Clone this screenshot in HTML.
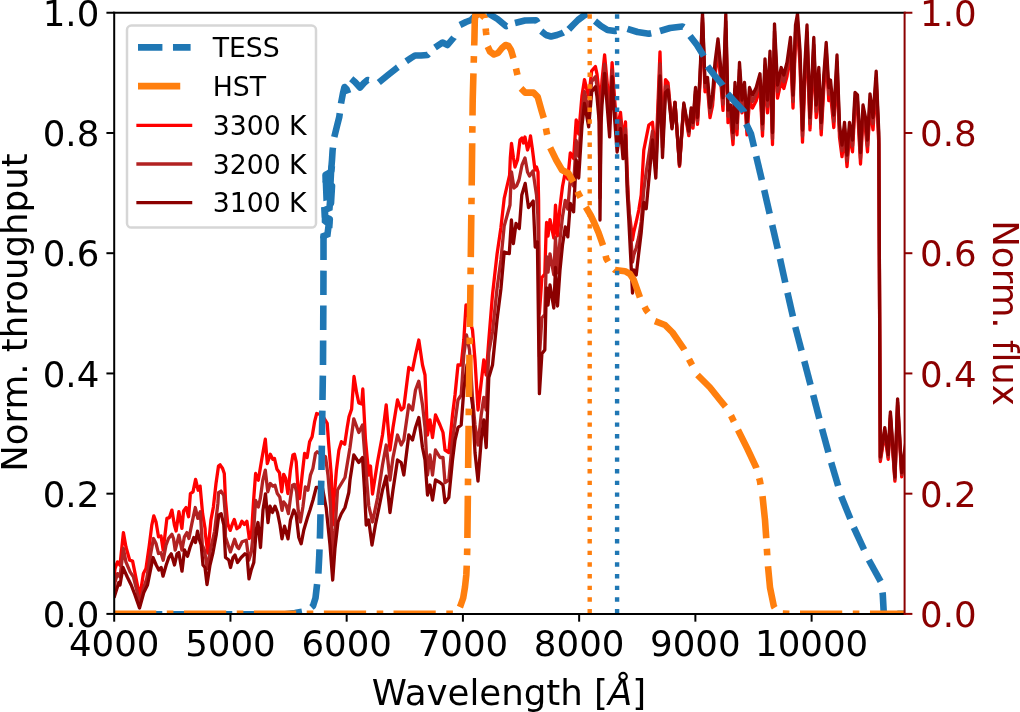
<!DOCTYPE html>
<html lang="en">
<head>
<meta charset="utf-8">
<title>Norm. throughput and flux vs wavelength</title>
<style>
html,body{margin:0;padding:0;background:#fff;}
body{width:1020px;height:712px;overflow:hidden;}
svg{display:block;}
text{font-variant-ligatures:none;font-feature-settings:"liga" 0,"clig" 0;font-kerning:normal;}
</style>
</head>
<body>
<svg width="1020" height="712" viewBox="0 0 1020 712">
<defs><clipPath id="ax"><rect x="114.20" y="12.74" width="790.40" height="601.16"/></clipPath></defs>
<rect width="1020" height="712" fill="#fff"/>
<g clip-path="url(#ax)" fill="none" stroke-linejoin="round" stroke-linecap="square" stroke-width="3.30">
<polyline points="114.2,576.6 115.0,568.6 117.5,561.9 120.0,565.2 123.4,532.6 125.9,546.8 129.7,560.2 132.6,561.1 135.1,573.6 139.8,597.0 143.4,573.6 146.0,568.6 149.3,545.2 151.8,525.1 153.8,515.9 156.0,521.8 158.5,536.8 161.0,536.0 163.2,550.2 166.9,518.4 169.4,517.6 171.9,510.1 174.4,525.1 176.1,531.0 178.9,511.7 181.9,528.4 183.6,510.9 186.1,507.5 188.6,516.7 190.4,493.6 193.0,491.9 195.6,479.4 198.1,490.2 200.1,486.1 202.6,513.6 205.1,528.7 205.3,533.5 207.8,553.0 210.9,520.3 213.4,507.0 216.0,483.5 218.5,466.0 220.1,464.8 222.6,468.5 224.3,473.5 225.5,500.3 227.7,523.7 230.2,530.4 232.2,524.5 234.3,519.5 236.9,528.7 239.4,527.0 241.9,521.2 244.4,524.5 246.9,521.2 248.9,535.4 249.1,538.5 251.3,536.8 253.6,500.3 255.6,473.5 258.3,480.2 261.9,458.5 265.3,439.2 267.3,463.5 270.3,454.3 272.8,459.3 274.5,458.5 277.0,469.3 279.5,472.7 281.7,491.9 283.7,474.3 285.7,478.5 287.9,493.6 290.4,470.2 292.9,455.1 294.5,454.3 296.2,461.8 297.9,486.9 299.6,498.6 302.1,475.2 304.6,453.4 307.1,457.6 309.6,441.7 312.1,436.7 314.6,421.7 316.7,413.5 322.0,415.0 327.2,423.3 328.8,445.1 331.3,475.2 332.5,525.0 334.0,500.0 336.4,470.2 338.9,450.1 341.4,441.7 344.7,444.2 347.2,427.5 349.0,416.7 351.6,409.1 352.8,392.7 354.0,376.5 356.6,392.7 358.8,403.0 361.7,404.0 362.8,389.0 365.5,440.0 368.8,475.0 370.5,466.0 372.5,494.0 377.5,462.0 382.5,435.0 386.2,405.0 390.0,450.0 393.0,427.5 397.5,400.0 401.2,410.0 403.8,407.5 408.8,367.5 412.5,370.0 415.5,355.0 418.8,340.0 422.5,365.0 425.0,375.0 427.5,435.0 430.0,420.0 432.5,437.5 435.5,415.0 440.0,425.0 443.0,432.5 445.0,450.0 448.8,452.5 452.5,415.0 455.0,395.0 458.0,365.0 461.2,365.0 463.8,340.0 466.0,305.0 469.0,318.0 472.5,330.0 475.0,360.0 478.0,410.0 481.2,382.5 483.8,360.0 486.2,375.0 488.8,340.0 492.5,294.7 495.0,272.2 497.0,254.6 500.9,227.7 504.2,198.4 509.6,175.0 510.3,158.0 511.5,143.5 513.5,158.0 515.0,167.0 517.5,160.0 520.0,140.0 522.0,138.0 523.5,143.0 525.0,137.0 527.5,150.0 529.0,145.0 530.5,136.0 532.5,150.0 535.0,170.0 536.5,167.0 538.0,172.0 538.6,200.0 539.4,313.4 541.9,277.5 544.8,274.1 546.1,232.1 546.6,222.3 548.0,236.0 550.0,219.6 553.8,237.9 555.5,205.1 557.5,235.9 560.0,206.6 562.5,186.5 565.3,171.9 567.8,179.0 570.3,152.9 573.6,158.5 576.2,119.9 578.7,134.0 582.0,95.4 584.5,79.6 588.7,97.4 591.7,70.8 595.4,66.6 597.0,74.2 599.2,94.0 600.0,174.6 601.0,96.5 602.0,80.4 604.6,54.9 607.1,82.2 609.6,110.5 612.1,62.7 614.6,99.2 617.1,129.6 620.5,112.3 623.0,140.1 625.5,122.0 627.2,172.3 628.8,210.0 630.5,222.0 632.5,240.0 633.8,232.0 636.2,222.0 638.8,210.0 641.2,195.0 643.8,150.0 646.2,138.0 648.8,125.0 652.5,122.3 655.8,158.4 658.0,103.0 660.0,51.8 662.5,138.3 665.5,79.6 668.0,82.7 672.0,125.8 675.0,102.5 679.5,166.3 683.8,106.0 688.8,135.7 691.2,113.4 693.0,128.2 695.5,94.2 697.5,124.3 700.0,83.1 702.5,22.5 705.0,91.8 707.5,87.6 710.0,117.6 712.5,106.0 715.0,74.9 718.0,52.6 720.5,78.7 723.0,110.4 725.8,28.8 728.0,122.6 730.5,117.7 733.0,144.5 735.0,95.8 737.0,134.8 739.5,76.3 742.0,112.8 744.5,95.8 747.0,134.8 749.5,100.7 752.5,108.0 756.2,100.7 760.0,87.3 762.5,136.0 765.0,72.6 767.5,112.8 770.0,65.3 772.5,144.5 774.5,38.5 777.5,98.2 781.2,81.2 783.8,88.5 787.0,76.3 790.5,51.9 793.0,108.0 795.5,39.7 797.5,28.8 800.0,64.1 802.5,142.1 805.0,76.3 807.0,39.7 810.0,129.9 813.8,51.9 816.2,117.7 818.8,81.2 821.2,134.8 823.8,88.5 826.2,56.8 828.8,100.7 830.5,93.3 833.8,127.5 837.0,69.0 839.5,137.2 842.0,156.7 844.5,134.8 847.0,166.5 849.5,134.8 852.5,151.8 855.0,105.5 857.5,108.0 860.5,164.0 863.0,117.7 865.5,129.9 867.5,151.8 870.0,106.8 873.0,129.9 876.2,84.8 878.8,144.5 880.3,461.6 884.8,433.2 888.2,459.4 890.4,418.0 894.9,481.1 897.6,405.4 901.7,476.8 903.9,461.6 906.0,445.2" stroke="#ff0000"/>
<polyline points="114.2,590.0 115.0,582.0 117.5,573.6 120.0,576.9 123.4,548.5 125.9,561.9 130.1,571.9 133.4,576.9 136.8,590.3 139.8,603.7 143.4,588.6 146.8,578.6 150.1,556.9 153.5,538.5 156.0,543.5 158.5,553.5 161.0,552.7 163.2,560.2 166.0,545.2 168.5,538.5 171.9,534.3 173.5,538.5 175.2,550.2 176.9,543.5 178.9,535.1 181.9,550.2 184.4,536.8 186.9,532.6 188.9,538.5 191.9,523.4 195.3,507.5 197.8,518.4 200.3,511.7 202.3,545.2 204.5,550.2 207.3,568.6 210.3,550.2 214.5,531.8 217.9,503.4 218.5,492.7 221.0,491.1 223.8,495.3 225.5,517.0 225.4,536.8 227.9,544.3 230.4,551.9 234.6,539.3 237.1,546.8 238.8,548.5 242.1,541.8 246.3,540.2 248.8,560.2 251.3,551.9 253.8,528.4 255.6,500.3 258.3,507.0 260.3,498.6 262.8,480.2 265.3,470.2 267.8,491.9 270.3,483.5 272.8,486.1 275.0,485.2 277.3,493.6 279.8,496.9 282.0,510.3 283.7,501.9 286.2,505.3 288.4,513.6 290.4,498.6 292.4,485.2 294.5,484.4 296.6,491.9 298.2,510.3 300.4,522.0 302.9,507.0 305.4,486.9 307.9,490.2 310.4,475.2 312.9,468.5 315.5,453.4 317.1,451.8 322.0,455.0 325.5,456.8 328.0,475.2 330.5,505.0 332.6,558.0 335.0,530.0 337.5,490.0 345.0,477.5 350.0,447.5 353.8,418.8 358.8,432.5 362.5,425.0 365.5,465.0 368.8,506.0 372.5,522.0 377.5,498.0 382.5,465.0 386.2,445.0 390.0,480.0 393.0,457.5 397.5,435.0 401.2,445.0 403.8,440.0 408.8,405.0 412.5,410.0 415.5,390.0 418.8,381.2 422.5,405.0 425.0,427.5 427.5,475.0 430.0,455.0 432.5,475.0 435.5,450.0 440.0,457.5 443.0,457.5 445.0,482.5 448.8,480.0 452.5,440.0 455.0,422.5 458.0,400.0 461.2,395.0 463.8,355.0 466.5,335.0 469.5,350.0 472.5,397.5 475.0,425.0 478.0,445.0 481.2,415.0 483.8,397.5 486.2,410.0 488.8,352.5 492.5,332.0 495.0,308.0 497.0,288.9 500.9,259.7 504.2,226.1 510.0,205.0 510.8,185.0 511.5,172.0 514.0,188.0 516.5,186.0 519.0,180.0 522.0,165.0 525.0,158.0 527.5,172.0 529.5,176.0 533.0,171.0 535.0,185.0 536.5,195.0 537.8,215.0 538.5,250.0 539.4,356.6 541.9,318.0 544.8,314.5 546.1,267.7 546.6,256.7 548.0,272.2 550.0,253.8 553.8,274.8 555.5,237.6 557.5,272.8 560.0,239.6 562.5,216.8 565.3,200.3 567.8,209.0 570.3,178.9 573.6,186.0 576.2,140.4 578.7,156.5 582.0,110.5 584.5,91.7 588.7,112.4 591.7,81.4 595.4,76.8 597.0,85.6 599.2,108.1 600.0,197.9 601.0,110.9 602.0,92.9 604.6,64.2 607.1,93.8 609.6,123.9 612.1,69.8 614.6,109.0 617.1,140.9 620.5,120.5 623.0,149.5 625.5,128.7 627.2,182.1 628.8,205.0 630.5,230.0 632.5,262.0 633.8,255.0 636.2,248.0 638.8,237.0 641.2,222.0 643.8,190.0 646.2,172.0 648.8,155.0 652.5,131.2 655.8,168.3 658.0,114.1 660.0,64.0 662.5,148.0 665.5,86.1 668.0,86.3 672.0,127.3 675.0,102.5 679.5,165.7 683.8,104.5 688.8,133.5 691.2,110.7 693.0,125.3 695.5,90.9 697.5,120.9 700.0,79.1 702.5,17.6 705.0,87.2 707.5,82.6 710.0,112.6 712.5,100.5 715.0,68.7 718.0,45.7 720.5,71.9 723.0,104.0 725.8,21.3 728.0,116.3 730.5,111.4 733.0,138.6 735.0,89.2 737.0,128.7 739.5,69.4 742.0,106.5 744.5,89.2 747.0,128.7 749.5,94.1 752.5,101.5 756.2,94.1 760.0,80.5 762.5,129.9 765.0,65.7 767.5,106.5 770.0,58.3 772.5,138.6 774.5,31.2 777.5,91.7 781.2,74.4 783.8,81.8 787.0,69.4 790.5,44.8 793.0,101.5 795.5,32.4 797.5,21.3 800.0,57.1 802.5,136.1 805.0,69.4 807.0,32.4 810.0,123.7 813.8,44.8 816.2,111.4 818.8,74.4 821.2,128.7 823.8,81.8 826.2,49.7 828.8,94.1 830.5,86.7 833.8,121.3 837.0,62.0 839.5,131.1 842.0,150.9 844.5,128.7 847.0,160.8 849.5,128.7 852.5,146.0 855.0,99.1 857.5,101.5 860.5,158.3 863.0,111.4 865.5,123.7 867.5,146.0 870.0,100.3 873.0,123.7 876.2,78.1 878.8,138.6 880.3,459.3 884.8,430.4 888.2,457.0 890.4,415.0 894.9,479.1 897.6,402.1 901.7,474.7 903.9,459.3 906.0,442.6" stroke="#b22222"/>
<polyline points="114.5,596.2 118.8,582.5 120.0,585.0 123.0,567.5 127.5,577.5 131.2,585.0 135.0,595.0 139.5,608.0 143.8,592.5 147.5,585.0 150.0,572.5 153.0,557.5 156.2,565.0 158.8,570.0 161.2,567.5 163.0,576.2 166.2,565.0 168.8,557.5 171.2,553.8 174.5,565.0 177.0,553.8 178.8,552.5 182.0,571.2 184.5,550.0 187.5,556.2 190.0,547.5 193.8,537.5 195.5,542.5 197.5,531.2 199.5,540.0 201.2,545.0 203.0,565.0 205.0,567.5 207.0,584.5 210.0,565.0 213.0,552.5 216.2,535.0 218.8,515.0 221.2,513.8 223.8,525.0 225.5,557.5 228.8,560.0 230.5,567.5 233.0,557.5 235.0,555.0 237.5,562.5 241.2,557.5 245.0,553.8 247.0,555.0 249.0,578.8 251.2,570.0 253.8,562.5 256.2,530.0 258.0,522.5 260.5,547.5 263.0,510.0 265.5,493.8 268.0,522.5 270.0,506.2 272.5,512.5 275.0,506.2 277.5,512.5 280.0,525.0 282.0,538.8 284.5,526.2 288.0,538.8 290.5,520.0 293.8,510.0 296.2,515.0 298.8,537.5 301.2,543.8 303.8,530.0 307.5,517.5 310.0,510.0 313.0,500.0 316.2,487.5 318.8,487.5 322.5,488.0 326.2,508.0 330.0,545.0 332.7,580.0 335.0,548.0 338.0,522.0 341.2,514.0 345.0,507.5 348.8,492.5 350.0,480.0 353.8,455.0 358.8,462.5 362.5,457.5 364.5,490.0 366.2,525.0 368.7,520.0 372.0,545.0 375.4,525.0 378.0,512.5 382.5,490.0 386.2,476.2 390.0,512.5 393.0,490.0 397.5,460.0 401.2,462.5 403.8,475.0 408.8,435.0 412.5,440.0 415.5,427.5 418.8,417.5 422.5,447.5 425.0,460.0 427.5,495.0 430.0,485.0 432.5,500.0 435.5,480.0 440.0,482.5 443.0,485.0 445.0,502.5 448.8,497.5 452.5,460.0 455.0,440.0 458.0,427.5 461.2,425.0 463.8,390.0 467.0,365.0 472.5,405.0 475.0,452.5 478.0,481.0 481.2,440.0 483.8,420.0 486.2,447.5 488.8,377.5 492.5,365.0 495.0,340.0 497.0,320.0 500.9,289.0 504.2,252.0 509.3,253.6 511.4,220.0 513.4,243.6 516.0,223.5 519.3,228.5 521.8,195.0 525.2,183.4 528.5,207.6 533.2,201.0 535.2,247.0 537.4,242.0 539.4,393.7 541.9,353.6 544.8,350.0 546.1,300.0 546.6,288.0 548.0,305.0 550.0,285.0 553.8,308.0 555.5,267.5 557.5,306.0 560.0,270.0 562.5,245.0 565.3,226.9 567.8,236.9 570.3,203.4 573.6,211.8 576.2,160.0 578.7,178.0 582.0,125.2 584.5,103.5 588.7,126.9 591.7,91.8 595.4,86.8 597.0,96.8 599.2,121.9 600.0,220.0 601.0,125.0 602.0,105.0 604.6,73.4 607.1,105.2 609.6,136.9 612.1,76.7 614.6,118.5 617.1,152.0 620.5,128.6 623.0,158.7 625.5,135.3 627.2,191.7 628.8,220.0 630.5,253.6 632.5,293.0 633.8,270.0 636.2,275.0 638.8,252.5 641.2,232.5 643.8,202.5 646.2,208.8 648.8,180.0 652.5,140.0 655.8,178.0 658.0,125.0 660.0,76.0 662.5,157.5 665.5,92.5 668.0,90.0 672.0,128.8 675.0,102.5 679.5,165.0 683.8,103.0 688.8,131.2 691.2,108.0 693.0,122.5 695.5,87.5 697.5,117.5 700.0,75.0 702.5,12.7 705.0,82.5 707.5,77.5 710.0,107.5 712.5,95.0 715.0,62.5 718.0,38.8 720.5,65.0 723.0,97.5 725.8,13.8 728.0,110.0 730.5,105.0 733.0,132.5 735.0,82.5 737.0,122.5 739.5,62.5 742.0,100.0 744.5,82.5 747.0,122.5 749.5,87.5 752.5,95.0 756.2,87.5 760.0,73.8 762.5,123.8 765.0,58.8 767.5,100.0 770.0,51.2 772.5,132.5 774.5,23.8 777.5,85.0 781.2,67.5 783.8,75.0 787.0,62.5 790.5,37.5 793.0,95.0 795.5,25.0 797.5,13.8 800.0,50.0 802.5,130.0 805.0,62.5 807.0,25.0 810.0,117.5 813.8,37.5 816.2,105.0 818.8,67.5 821.2,122.5 823.8,75.0 826.2,42.5 828.8,87.5 830.5,80.0 833.8,115.0 837.0,55.0 839.5,125.0 842.0,145.0 844.5,122.5 847.0,155.0 849.5,122.5 852.5,140.0 855.0,92.5 857.5,95.0 860.5,152.5 863.0,105.0 865.5,117.5 867.5,140.0 870.0,93.8 873.0,117.5 876.2,71.2 878.8,132.5 880.3,456.9 884.8,427.6 888.2,454.6 890.4,411.9 894.9,477.0 897.6,398.9 901.7,472.6 903.9,456.9 906.0,440.0" stroke="#8b0000"/>
</g>
<g clip-path="url(#ax)" fill="none" stroke-linejoin="round">
<polyline points="102.9,614.3 285.0,614.3 295.0,613.0 303.0,611.5 309.0,609.5 313.0,606.0 315.5,598.0 317.0,585.0 318.3,575.0 319.3,555.0 320.0,535.0 320.7,505.0" stroke="#1f77b4" stroke-width="6.60" stroke-dasharray="24.42 10.56 24.42 10.56 24.42 10.56 24.42 10.56 24.42 10.56 24.42 10.56 24.42 10.56 24.42 10.56 24.42 1009.30"/>
<polyline points="320.7,505.0 320.7,505.0 321.5,470.0 322.0,435.0 322.5,400.0 323.0,365.0" stroke="#1f77b4" stroke-width="6.60" stroke-dasharray="24.42 10.56 24.42 10.56 24.42 10.56 24.42 10.56 0.00 1000.00"/>
<polyline points="323.0,365.0 323.0,365.0 323.2,330.0 323.4,295.0 323.5,260.0" stroke="#1f77b4" stroke-width="6.60" stroke-dasharray="24.42 10.56 24.42 10.56 24.42 10.56 0.00 1000.00"/>
<polyline points="323.5,260.0 323.5,260.0 323.5,237.0 328.8,234.0 329.8,219.0 325.0,217.0 324.0,202.0 331.0,203.0 332.0,186.0 326.0,191.0 325.5,175.0 331.0,172.0" stroke="#1f77b4" stroke-width="6.60" stroke-dasharray="24.42 10.56 24.42 10.56 24.42 10.56 13.60 1000.00"/>
<polyline points="331.0,172.0 331.0,172.0 332.0,160.0 332.6,150.3 334.3,137.0" stroke="#1f77b4" stroke-width="6.60" stroke-dasharray="24.42 10.56 0.00 1000.00"/>
<polyline points="334.3,137.0 334.3,137.0 337.0,126.0 339.3,116.9 341.0,103.5" stroke="#1f77b4" stroke-width="6.60" stroke-dasharray="24.42 1009.80"/>
<polyline points="341.0,103.5 341.0,103.5 343.0,93.0 344.5,87.0 346.5,89.0 349.0,95.5 350.5,88.0 351.2,78.8" stroke="#1f77b4" stroke-width="6.60" stroke-dasharray="24.42 10.56 0.00 1000.00"/>
<polyline points="351.2,78.8 351.2,78.8 355.0,82.0 360.0,87.5 364.0,83.0 367.5,80.0 373.0,81.0 378.8,82.5" stroke="#1f77b4" stroke-width="6.60" stroke-dasharray="24.42 1010.14"/>
<polyline points="378.8,82.5 378.8,82.5 388.0,75.0 397.5,67.5 406.2,61.2" stroke="#1f77b4" stroke-width="6.60" stroke-dasharray="24.42 1010.35"/>
<polyline points="406.2,61.2 406.2,61.2 411.0,58.0 415.0,55.5 421.0,55.5 427.5,55.0 435.0,47.5" stroke="#1f77b4" stroke-width="6.60" stroke-dasharray="24.42 1009.18"/>
<polyline points="435.0,47.5 435.0,47.5 442.5,42.5 447.5,45.0 453.8,37.5 460.0,25.0" stroke="#1f77b4" stroke-width="6.60" stroke-dasharray="24.42 10.56 0.00 1000.00"/>
<polyline points="460.0,25.0 460.0,25.0 466.0,22.0 471.2,20.0 475.0,16.0 479.0,13.5 483.0,12.9 487.0,13.2" stroke="#1f77b4" stroke-width="6.60" stroke-dasharray="24.42 1006.16"/>
<polyline points="487.0,13.2 487.0,13.2 490.0,14.5 497.5,19.0 506.2,26.2 510.0,25.0 515.0,23.0" stroke="#1f77b4" stroke-width="6.60" stroke-dasharray="24.42 1008.30"/>
<polyline points="515.0,23.0 515.0,23.0 525.0,20.5 536.2,20.2 539.0,25.0 541.2,31.2" stroke="#1f77b4" stroke-width="6.60" stroke-dasharray="24.42 1009.32"/>
<polyline points="541.2,31.2 541.2,31.2 546.0,35.0 551.0,36.5 557.0,35.0 562.5,33.0 568.8,29.4" stroke="#1f77b4" stroke-width="6.60" stroke-dasharray="24.42 1006.10"/>
<polyline points="568.8,29.4 568.8,29.4 573.0,25.0 578.0,20.0 584.0,15.5 588.8,13.0 592.0,16.0 595.0,21.2" stroke="#1f77b4" stroke-width="6.60" stroke-dasharray="24.42 10.56 0.00 1000.00"/>
<polyline points="595.0,21.2 595.0,21.2 601.0,26.0 607.5,30.0 615.0,31.0 621.0,30.0 627.5,28.8" stroke="#1f77b4" stroke-width="6.60" stroke-dasharray="24.42 10.56 0.00 1000.00"/>
<polyline points="627.5,28.8 627.5,28.8 637.5,32.0 648.8,33.8 655.0,32.5 660.0,31.0" stroke="#1f77b4" stroke-width="6.60" stroke-dasharray="24.42 1009.07"/>
<polyline points="660.0,31.0 660.0,31.0 670.0,28.0 682.5,26.5 686.0,29.0 690.0,36.0" stroke="#1f77b4" stroke-width="6.60" stroke-dasharray="24.42 10.56 0.00 1000.00"/>
<polyline points="690.0,36.0 690.0,36.0 697.0,45.0 703.8,56.2 707.5,66.2" stroke="#1f77b4" stroke-width="6.60" stroke-dasharray="24.42 10.56 0.00 1000.00"/>
<polyline points="707.5,66.2 707.5,66.2 715.0,76.0 722.5,85.0 727.5,93.8" stroke="#1f77b4" stroke-width="6.60" stroke-dasharray="24.42 1009.67"/>
<polyline points="727.5,93.8 727.5,93.8 736.0,103.0 743.8,111.2 746.2,123.8" stroke="#1f77b4" stroke-width="6.60" stroke-dasharray="24.42 10.56 0.00 1000.00"/>
<polyline points="746.2,123.8 746.2,123.8 751.0,134.0 756.2,156.2" stroke="#1f77b4" stroke-width="6.60" stroke-dasharray="24.42 1009.74"/>
<polyline points="756.2,156.2 756.2,156.2 764.2,190.0" stroke="#1f77b4" stroke-width="6.60" stroke-dasharray="24.42 1010.25"/>
<polyline points="764.2,190.0 764.2,190.0 772.2,225.0" stroke="#1f77b4" stroke-width="6.60" stroke-dasharray="24.42 10.56 0.00 1000.00"/>
<polyline points="772.2,225.0 772.2,225.0 780.0,258.8" stroke="#1f77b4" stroke-width="6.60" stroke-dasharray="24.42 1010.22"/>
<polyline points="780.0,258.8 780.0,258.8 787.5,292.7" stroke="#1f77b4" stroke-width="6.60" stroke-dasharray="24.42 1010.35"/>
<polyline points="787.5,292.7 787.5,292.7 795.3,327.0" stroke="#1f77b4" stroke-width="6.60" stroke-dasharray="24.42 10.56 0.00 1000.00"/>
<polyline points="795.3,327.0 795.3,327.0 804.3,361.2" stroke="#1f77b4" stroke-width="6.60" stroke-dasharray="24.42 10.56 0.00 1000.00"/>
<polyline points="804.3,361.2 804.3,361.2 813.2,395.0" stroke="#1f77b4" stroke-width="6.60" stroke-dasharray="24.42 1010.48"/>
<polyline points="813.2,395.0 813.2,395.0 822.0,428.8" stroke="#1f77b4" stroke-width="6.60" stroke-dasharray="24.42 1010.46"/>
<polyline points="822.0,428.8 822.0,428.8 831.2,462.5" stroke="#1f77b4" stroke-width="6.60" stroke-dasharray="24.42 10.56 0.00 1000.00"/>
<polyline points="831.2,462.5 831.2,462.5 841.2,496.2" stroke="#1f77b4" stroke-width="6.60" stroke-dasharray="24.42 10.56 0.00 1000.00"/>
<polyline points="841.2,496.2 841.2,496.2 853.8,527.5" stroke="#1f77b4" stroke-width="6.60" stroke-dasharray="24.42 1009.24"/>
<polyline points="853.8,527.5 853.8,527.5 868.8,560.0" stroke="#1f77b4" stroke-width="6.60" stroke-dasharray="24.42 10.56 0.00 1000.00"/>
<polyline points="868.8,560.0 868.8,560.0 881.5,583.0 882.5,592.5" stroke="#1f77b4" stroke-width="6.60" stroke-dasharray="24.42 10.56 0.00 1000.00"/>
<polyline points="882.5,592.5 882.8,595.0 883.8,613.9 910.0,613.9" stroke="#1f77b4" stroke-width="6.60" stroke-dasharray="24.42 10.56 12.70 1000.00"/>
<polyline points="323.5,238.5 323.6,236.0 327.5,234.5 328.8,224.0 325.0,221.0 325.0,210.0 329.5,208.0 330.5,196.0 326.5,197.0 326.0,184.0 330.5,183.0 331.0,172.5 331.9,166.0" stroke="#1f77b4" stroke-width="6.60" stroke-linejoin="miter"/>
<polyline points="114.0,613.9 393.5,613.9" stroke="#ff7f0e" stroke-width="6.60" stroke-dasharray="42.24 10.56 6.60 10.56 42.24 10.56 6.60 10.56 42.24 10.56 6.60 10.56 42.24 10.56 6.60 1010.17"/>
<polyline points="393.5,613.9 454.0,613.9 456.5,613.0 458.3,610.5 460.4,606.0 463.2,598.0 465.0,587.0 466.3,575.0 467.0,560.0 467.4,540.0 467.4,538.0" stroke="#ff7f0e" stroke-width="6.60" stroke-dasharray="42.24 10.56 6.60 10.56 42.24 10.56 6.60 1010.56"/>
<polyline points="467.4,538.0 467.8,500.0 468.9,400.0 468.9,397.0" stroke="#ff7f0e" stroke-width="6.60" stroke-dasharray="42.24 10.56 6.60 10.56 42.24 10.56 6.60 10.56 0.00 1000.00"/>
<polyline points="468.9,397.0 470.0,320.0 470.8,256.0 471.5,200.0 471.7,185.5" stroke="#ff7f0e" stroke-width="6.60" stroke-dasharray="42.24 10.56 6.60 10.56 42.24 10.56 6.60 10.56 42.24 10.56 6.60 10.56 0.00 1000.00"/>
<polyline points="471.7,185.5 472.7,100.0 473.8,60.0 474.2,45.5" stroke="#ff7f0e" stroke-width="6.60" stroke-dasharray="42.24 10.56 6.60 10.56 42.24 10.56 6.60 10.56 0.00 1000.00"/>
<polyline points="474.2,45.5 474.4,40.0 474.8,20.0 475.5,14.5 478.0,13.5 481.0,14.5 484.5,17.5 485.3,24.0 485.7,28.5" stroke="#ff7f0e" stroke-width="6.60" stroke-dasharray="42.24 1010.33"/>
<polyline points="485.7,28.5 486.0,32.0 487.0,41.0 487.7,46.5" stroke="#ff7f0e" stroke-width="6.60" stroke-dasharray="0.00 0.00 6.60 10.56 0.00 1000.00"/>
<polyline points="487.7,46.5 487.7,46.5 490.0,51.5 494.0,54.5 498.0,53.0 502.0,48.0 505.5,45.0 508.5,46.0 511.0,50.0 514.0,60.0 517.5,75.0 521.0,88.4" stroke="#ff7f0e" stroke-width="6.60" stroke-dasharray="42.24 10.56 6.60 10.56 0.00 1000.00"/>
<polyline points="521.0,88.4 521.0,88.4 525.2,92.6 533.5,92.6 537.7,96.8 541.9,111.9 544.4,120.2 546.9,133.6 550.2,147.8" stroke="#ff7f0e" stroke-width="6.60" stroke-dasharray="42.24 10.56 6.60 10.56 0.00 1000.00"/>
<polyline points="550.2,147.8 550.2,147.8 556.2,160.0 562.0,170.0 568.6,173.5 573.6,182.5 578.7,194.2 585.8,207.0" stroke="#ff7f0e" stroke-width="6.60" stroke-dasharray="42.24 10.56 6.60 10.56 0.00 1000.00"/>
<polyline points="585.8,207.0 585.8,207.0 590.8,215.5 594.6,223.5 598.5,232.5 601.5,241.0 603.9,248.0 606.3,258.6 610.0,265.0 614.3,269.3" stroke="#ff7f0e" stroke-width="6.60" stroke-dasharray="42.24 10.56 6.60 1009.88"/>
<polyline points="614.3,269.3 615.0,270.0 625.0,271.2 630.0,274.0 633.8,280.0 640.0,297.5 646.2,310.0 655.0,321.2" stroke="#ff7f0e" stroke-width="6.60" stroke-dasharray="42.24 10.56 6.60 10.56 0.00 1000.00"/>
<polyline points="655.0,321.2 655.0,321.2 665.0,325.0 672.5,332.5 683.8,348.8 690.0,361.2 697.5,375.0" stroke="#ff7f0e" stroke-width="6.60" stroke-dasharray="42.24 10.56 6.60 10.56 0.00 1000.00"/>
<polyline points="697.5,375.0 697.5,375.0 710.0,387.5 720.0,400.0 726.2,407.5 731.2,416.0 738.0,430.0" stroke="#ff7f0e" stroke-width="6.60" stroke-dasharray="42.24 10.56 6.60 1009.45"/>
<polyline points="738.0,430.0 738.0,430.0 747.5,449.0 756.2,467.5 760.0,481.2 762.5,496.2" stroke="#ff7f0e" stroke-width="6.60" stroke-dasharray="42.24 10.56 6.60 10.56 0.00 1000.00"/>
<polyline points="762.5,496.2 762.5,496.2 765.0,520.0 766.2,537.5 767.0,551.2 768.0,566.2" stroke="#ff7f0e" stroke-width="6.60" stroke-dasharray="42.24 10.56 6.60 10.56 0.00 1000.00"/>
<polyline points="768.0,566.2 768.0,566.2 770.0,587.5 773.8,606.2 777.0,611.5 782.0,613.5 790.0,613.9 800.0,613.9" stroke="#ff7f0e" stroke-width="6.60" stroke-dasharray="42.24 10.56 6.60 10.56 0.00 1000.00"/>
<polyline points="800.0,613.9 910.0,613.9" stroke="#ff7f0e" stroke-width="6.60" stroke-dasharray="42.24 10.56 6.60 10.56 40.04 1000.00"/>
<line x1="589.7" y1="613.9" x2="589.7" y2="12.7" stroke="#ff7f0e" stroke-width="4.40" stroke-dasharray="4.40 7.26" stroke-dashoffset="11.14"/>
<line x1="617.1" y1="613.9" x2="617.1" y2="12.7" stroke="#1f77b4" stroke-width="4.40" stroke-dasharray="4.40 7.26" stroke-dashoffset="11.14"/>
</g>
<g stroke="#000" stroke-width="2.00" fill="none" stroke-linecap="square">
<line x1="114.20" y1="12.74" x2="114.20" y2="613.90"/>
<line x1="114.20" y1="613.90" x2="904.60" y2="613.90"/>
<line x1="114.20" y1="12.74" x2="904.60" y2="12.74"/>
</g>
<line x1="904.60" y1="12.74" x2="904.60" y2="613.90" stroke="#8b0000" stroke-width="2.00" stroke-linecap="square"/>
<g stroke="#000" stroke-width="2.00">
<line x1="114.20" y1="613.90" x2="114.20" y2="621.68"/>
<line x1="230.44" y1="613.90" x2="230.44" y2="621.68"/>
<line x1="346.67" y1="613.90" x2="346.67" y2="621.68"/>
<line x1="462.91" y1="613.90" x2="462.91" y2="621.68"/>
<line x1="579.14" y1="613.90" x2="579.14" y2="621.68"/>
<line x1="695.38" y1="613.90" x2="695.38" y2="621.68"/>
<line x1="811.61" y1="613.90" x2="811.61" y2="621.68"/>
<line x1="114.20" y1="613.90" x2="106.42" y2="613.90"/>
<line x1="114.20" y1="493.67" x2="106.42" y2="493.67"/>
<line x1="114.20" y1="373.44" x2="106.42" y2="373.44"/>
<line x1="114.20" y1="253.20" x2="106.42" y2="253.20"/>
<line x1="114.20" y1="132.97" x2="106.42" y2="132.97"/>
<line x1="114.20" y1="12.74" x2="106.42" y2="12.74"/>
</g>
<g stroke="#8b0000" stroke-width="2.00">
<line x1="904.60" y1="613.90" x2="912.38" y2="613.90"/>
<line x1="904.60" y1="493.67" x2="912.38" y2="493.67"/>
<line x1="904.60" y1="373.44" x2="912.38" y2="373.44"/>
<line x1="904.60" y1="253.20" x2="912.38" y2="253.20"/>
<line x1="904.60" y1="132.97" x2="912.38" y2="132.97"/>
<line x1="904.60" y1="12.74" x2="912.38" y2="12.74"/>
</g>
<g font-family="'DejaVu Sans', 'Liberation Sans', sans-serif" font-size="35.6">
<g fill="#000" text-anchor="middle">
<text x="114.20" y="655.60">4000</text>
<text x="230.44" y="655.60">5000</text>
<text x="346.67" y="655.60">6000</text>
<text x="462.91" y="655.60">7000</text>
<text x="579.14" y="655.60">8000</text>
<text x="695.38" y="655.60">9000</text>
<text x="811.61" y="655.60">10000</text>
</g>
<g fill="#000" text-anchor="end">
<text x="99.30" y="627.10">0.0</text>
<text x="99.30" y="506.87">0.2</text>
<text x="99.30" y="386.64">0.4</text>
<text x="99.30" y="266.40">0.6</text>
<text x="99.30" y="146.17">0.8</text>
<text x="99.30" y="25.94">1.0</text>
</g>
<g fill="#8b0000" text-anchor="start">
<text x="920.00" y="627.10">0.0</text>
<text x="920.00" y="506.87">0.2</text>
<text x="920.00" y="386.64">0.4</text>
<text x="920.00" y="266.40">0.6</text>
<text x="920.00" y="146.17">0.8</text>
<text x="920.00" y="25.94">1.0</text>
</g>
<text x="509.00" y="705.20" text-anchor="middle" fill="#000">Wavelength [<tspan font-style="oblique">Å</tspan>]</text>
<text transform="translate(27.00,312.60) rotate(-90)" text-anchor="middle" fill="#000">Norm. throughput</text>
<text transform="translate(993.10,313.10) rotate(90)" text-anchor="middle" fill="#8b0000">Norm. flux</text>
</g>
<rect x="127.00" y="25.60" width="189.00" height="202.00" rx="4.4" ry="4.4" fill="#fff" fill-opacity="0.8" stroke="#ccc" stroke-opacity="0.8" stroke-width="2.5"/>
<line x1="138.0" y1="47.4" x2="190.6" y2="47.4" stroke="#1f77b4" stroke-width="6.60" stroke-dasharray="24.42 10.56"/>
<line x1="138.0" y1="86.1" x2="190.6" y2="86.1" stroke="#ff7f0e" stroke-width="6.60" stroke-dasharray="42.24 10.56 6.60 10.56"/>
<line x1="138.0" y1="125.3" x2="190.6" y2="125.3" stroke="#ff0000" stroke-width="3.30" stroke-linecap="square"/>
<line x1="138.0" y1="164.0" x2="190.6" y2="164.0" stroke="#b22222" stroke-width="3.30" stroke-linecap="square"/>
<line x1="138.0" y1="202.6" x2="190.6" y2="202.6" stroke="#8b0000" stroke-width="3.30" stroke-linecap="square"/>
<g font-family="'DejaVu Sans', 'Liberation Sans', sans-serif" font-size="26.7" fill="#000">
<text x="212.7" y="57.0">TESS</text>
<text x="212.7" y="95.7">HST</text>
<text x="212.7" y="134.9">3300 K</text>
<text x="212.7" y="173.6">3200 K</text>
<text x="212.7" y="212.2">3100 K</text>
</g>
</svg>
</body>
</html>
